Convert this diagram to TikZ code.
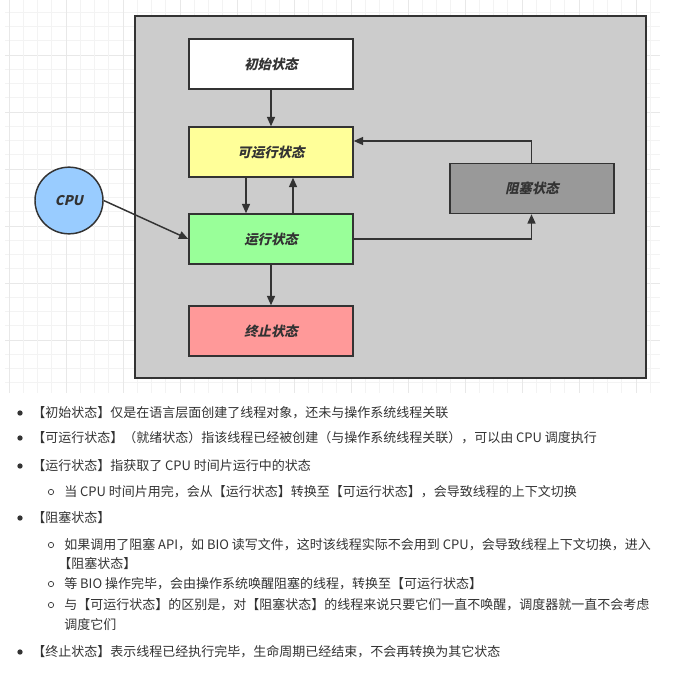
\documentclass[tikz,border=0pt]{standalone}
\usepackage{fontspec}
\setmainfont{Noto Sans CJK SC}
\newfontfamily\lblfont[FakeSlant=0.22]{Noto Sans CJK SC}
\usetikzlibrary{arrows.meta,shapes.geometric}
\definecolor{ink}{HTML}{333333}
\definecolor{bgc}{HTML}{CCCCCC}
\definecolor{initc}{HTML}{FFFFFF}
\definecolor{runnablec}{HTML}{FFFF99}
\definecolor{runningc}{HTML}{99FF99}
\definecolor{termc}{HTML}{FF9999}
\definecolor{blockc}{HTML}{999999}
\definecolor{cpuc}{HTML}{99CCFF}
\definecolor{gridminor}{HTML}{F3F3F3}
\definecolor{gridmajor}{HTML}{E8E8E8}
\definecolor{txt}{HTML}{333333}
\tikzset{
  statebox/.style={draw=ink, line width=1.1pt, minimum width=123pt, minimum height=37.5pt, inner sep=0pt,
    font=\lblfont\bfseries\fontsize{10pt}{12pt}\selectfont, text=ink},
  cpunode/.style={ellipse, draw=ink, line width=1.1pt, fill=cpuc, minimum width=51pt, minimum height=50pt, inner sep=0pt,
    font=\lblfont\bfseries\fontsize{10pt}{12pt}\selectfont, text=ink},
  arr/.style={draw=ink, line width=1.1pt, -{Triangle[length=7pt,width=6pt]}},
  listtext/.style={anchor=west, inner sep=0pt, text=txt, font=\fontsize{9.75pt}{12pt}\selectfont},
  bulletdot/.style={circle, fill=txt, inner sep=0pt, minimum size=4pt},
  subdot/.style={circle, draw=txt, line width=0.5pt, inner sep=0pt, minimum size=4pt},
}
\begin{document}
\begin{tikzpicture}[x=0.75pt,y=-0.75pt]
\useasboundingbox (0,0) rectangle (699,675);
\fill[white] (0,0) rectangle (699,675);
% background grid
\foreach \i in {1,...,27} {
  \pgfmathtruncatemacro{\m}{mod(\i,4)}
  \ifnum\m=0
    \draw[gridmajor, line width=0.5pt] (5,{-2+14.25*\i}) -- (660,{-2+14.25*\i});
  \else
    \draw[gridminor, line width=0.5pt] (5,{-2+14.25*\i}) -- (660,{-2+14.25*\i});
  \fi
}
\foreach \k in {0,...,45} {
  \pgfmathtruncatemacro{\m}{mod(\k,4)}
  \ifnum\m=0
    \draw[gridmajor, line width=0.5pt] ({9+14.25*\k},0) -- ({9+14.25*\k},393);
  \else
    \draw[gridminor, line width=0.5pt] ({9+14.25*\k},0) -- ({9+14.25*\k},393);
  \fi
}
% outer container
\draw[draw=ink, fill=bgc, line width=1.3pt] (135,16) rectangle (646,378);
% states
\node[statebox, fill=initc] (init) at (271,64) {初始状态};
\node[statebox, fill=runnablec] (runnable) at (271,152) {可运行状态};
\node[statebox, fill=runningc] (running) at (271,239) {运行状态};
\node[statebox, fill=termc] (term) at (271,331) {终止状态};
\node[statebox, fill=blockc] (blocked) at (532,188.5) {阻塞状态};
\node[cpunode] (cpu) at (69,200.5) {CPU};
% helper coordinates
\coordinate (xL) at (246,0);
\coordinate (xR) at (293,0);
\coordinate (xB) at (531.5,0);
\coordinate (yT) at (0,141);
% connectors
\draw[arr] (init) -- (runnable);
\draw[arr] (runnable.south -| xL) -- (running.north -| xL);
\draw[arr] (running.north -| xR) -- (runnable.south -| xR);
\draw[arr] (blocked.north -| xB) |- (runnable.east |- yT);
\draw[arr] (running.east) -| (blocked.south -| xB);
\draw[arr] (running) -- (term);
\draw[arr] (cpu.east) -- (running.west);
% list
\node[bulletdot] (b1) at (20,413) {};
\node[listtext] (t1) at (32,413) {【初始状态】仅是在语言层面创建了线程对象，还未与操作系统线程关联};
\node[bulletdot] (b2) at (20,438) {};
\node[listtext] (t2) at (32,438) {【可运行状态】（就绪状态）指该线程已经被创建（与操作系统线程关联），可以由 CPU 调度执行};
\node[bulletdot] (b3) at (20,466) {};
\node[listtext] (t3) at (32,466) {【运行状态】指获取了 CPU 时间片运行中的状态};
\node[subdot] (s4) at (51,492) {};
\node[listtext] (t4) at (64,492) {当 CPU 时间片用完，会从【运行状态】转换至【可运行状态】，会导致线程的上下文切换};
\node[bulletdot] (b5) at (20,518) {};
\node[listtext] (t5) at (32,518) {【阻塞状态】};
\node[subdot] (s6) at (51,545) {};
\node[listtext] (t6) at (64,545) {如果调用了阻塞 API，如 BIO 读写文件，这时该线程实际不会用到 CPU，会导致线程上下文切换，进入};
\node[listtext] (t7) at (58,564) {【阻塞状态】};
\node[subdot] (s8) at (51,584) {};
\node[listtext] (t8) at (64,584) {等 BIO 操作完毕，会由操作系统唤醒阻塞的线程，转换至【可运行状态】};
\node[subdot] (s9) at (51,605) {};
\node[listtext] (t9) at (64,605) {与【可运行状态】的区别是，对【阻塞状态】的线程来说只要它们一直不唤醒，调度器就一直不会考虑};
\node[listtext] (t10) at (64,625) {调度它们};
\node[bulletdot] (b11) at (20,652) {};
\node[listtext] (t11) at (32,652) {【终止状态】表示线程已经执行完毕，生命周期已经结束，不会再转换为其它状态};
\end{tikzpicture}
\end{document}
